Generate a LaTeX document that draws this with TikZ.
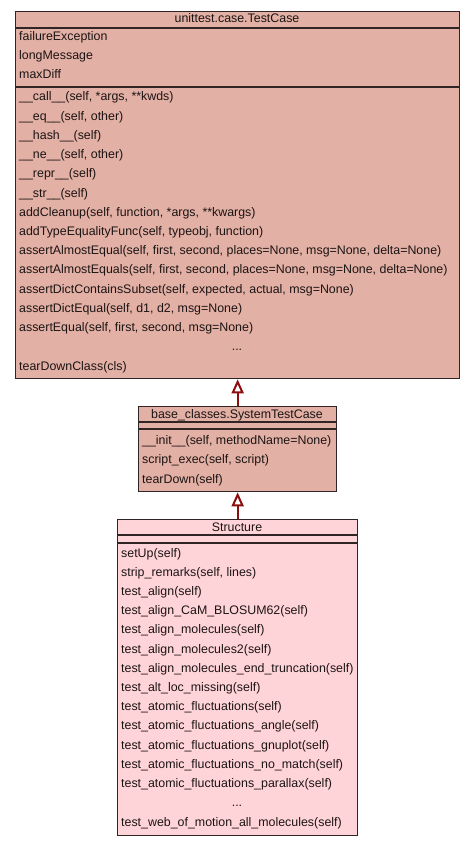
\documentclass[tikz,border=0pt]{standalone}
\usepackage{fontspec}
\setmainfont{Liberation Sans}
\usepackage{xcolor}
\usetikzlibrary{arrows.meta}

\definecolor{basefill}{RGB}{226,176,164}
\definecolor{leaffill}{RGB}{255,212,216}
\definecolor{edgered}{RGB}{140,14,14}
\definecolor{boxline}{RGB}{48,36,36}
\definecolor{labeltext}{RGB}{28,20,20}

\begin{document}
\begin{tikzpicture}[x=1pt, y=-1pt,
  classbox/.style={draw=boxline, line width=1.3pt, inner sep=0pt, anchor=north west},
  member/.style={anchor=base west, inner sep=0pt, text=labeltext,
    font=\fontsize{12.4}{14}\selectfont},
  classname/.style={member, anchor=base},
  inherit/.style={draw=edgered, line width=2pt,
    -{Triangle[open, length=14pt, width=12pt, line width=2pt]}}]
  \useasboundingbox (0,0) rectangle (474,845);

  % unittest.case.TestCase
  \node[classbox, fill=basefill, minimum width=444pt, minimum height=367pt]
    (testcase) at (15,11) {};
  \draw[boxline, line width=1.3pt] (15,28) -- (459,28);
  \draw[boxline, line width=1.3pt] (15,87) -- (459,87);
  \node[classname] (testcasename) at (237,23) {unittest.case.TestCase};
  \foreach \txt [count=\i] in {failureException, longMessage, maxDiff}
    \node[member] (tcattr\i) at (19, 41+19*\i-19) {\txt};
  \foreach \txt [count=\i] in {%
      {\_\_call\_\_(self, *args, **kwds)},
      {\_\_eq\_\_(self, other)},
      {\_\_hash\_\_(self)},
      {\_\_ne\_\_(self, other)},
      {\_\_repr\_\_(self)},
      {\_\_str\_\_(self)},
      {addCleanup(self, function, *args, **kwargs)},
      {addTypeEqualityFunc(self, typeobj, function)},
      {assertAlmostEqual(self, first, second, places=None, msg=None, delta=None)},
      {assertAlmostEquals(self, first, second, places=None, msg=None, delta=None)},
      {assertDictContainsSubset(self, expected, actual, msg=None)},
      {assertDictEqual(self, d1, d2, msg=None)},
      {assertEqual(self, first, second, msg=None)}}
    \node[member] (tcop\i) at (19, 101+19.2*\i-19.2) {\txt};
  \node[classname] (tcdots) at (237,350) {...};
  \node[member] (tcteardown) at (19,370) {tearDownClass(cls)};

  % base_classes.SystemTestCase
  \node[classbox, fill=basefill, minimum width=198pt, minimum height=85pt]
    (systest) at (138,406) {};
  \draw[boxline, line width=1.3pt] (138,422) -- (336,422);
  \draw[boxline, line width=1.3pt] (138,429) -- (336,429);
  \node[classname] (systestname) at (237,418) {base\_classes.SystemTestCase};
  \foreach \txt [count=\i] in {%
      {\_\_init\_\_(self, methodName=None)},
      {script\_exec(self, script)},
      {tearDown(self)}}
    \node[member] (stop\i) at (142, 444+19.5*\i-19.5) {\txt};

  % Structure
  \node[classbox, fill=leaffill, minimum width=240pt, minimum height=316pt]
    (structure) at (117,519) {};
  \draw[boxline, line width=1.3pt] (117,535) -- (357,535);
  \draw[boxline, line width=1.3pt] (117,543) -- (357,543);
  \node[classname] (structurename) at (237,531) {Structure};
  \foreach \txt [count=\i] in {%
      {setUp(self)},
      {strip\_remarks(self, lines)},
      {test\_align(self)},
      {test\_align\_CaM\_BLOSUM62(self)},
      {test\_align\_molecules(self)},
      {test\_align\_molecules2(self)},
      {test\_align\_molecules\_end\_truncation(self)},
      {test\_alt\_loc\_missing(self)},
      {test\_atomic\_fluctuations(self)},
      {test\_atomic\_fluctuations\_angle(self)},
      {test\_atomic\_fluctuations\_gnuplot(self)},
      {test\_atomic\_fluctuations\_no\_match(self)},
      {test\_atomic\_fluctuations\_parallax(self)}}
    \node[member] (strop\i) at (121, 557+19.2*\i-19.2) {\txt};
  \node[classname] (strdots) at (237,806) {...};
  \node[member] (strweb) at (121,826) {test\_web\_of\_motion\_all\_molecules(self)};

  % Inheritance arrows
  \draw[inherit] (systest.north) -- (testcase.south);
  \draw[inherit] (structure.north) -- (systest.south);
\end{tikzpicture}
\end{document}
